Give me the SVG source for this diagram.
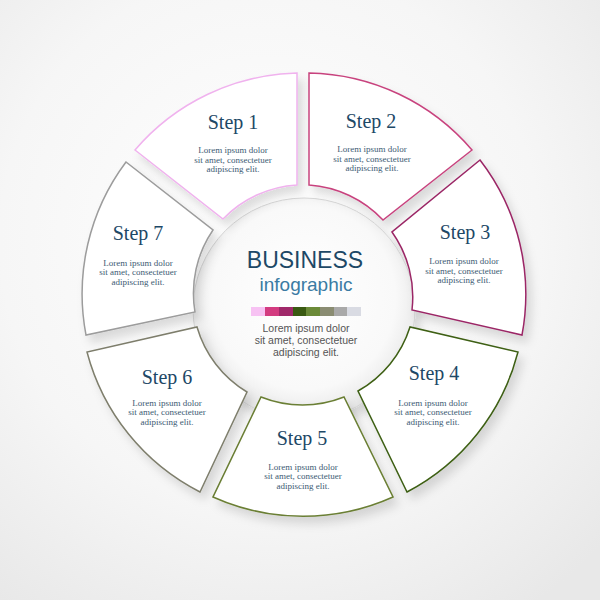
<svg xmlns="http://www.w3.org/2000/svg" width="600" height="600" viewBox="0 0 600 600">
<defs>
<radialGradient id="bg" cx="0.45" cy="0.4" r="0.75">
<stop offset="0" stop-color="#ffffff"/>
<stop offset="0.6" stop-color="#f6f6f6"/>
<stop offset="1" stop-color="#e8e8e8"/>
</radialGradient>
<radialGradient id="hub" cx="0.5" cy="0.45" r="0.55">
<stop offset="0" stop-color="#ffffff"/>
<stop offset="0.75" stop-color="#f9f9f9"/>
<stop offset="1" stop-color="#e6e6e6"/>
</radialGradient>
<filter id="sh" x="-20%" y="-20%" width="150%" height="150%">
<feDropShadow dx="5" dy="7" stdDeviation="5" flood-color="#000" flood-opacity="0.13"/>
</filter>
<style>
.seg{fill:#ffffff;stroke-width:1.5;filter:url(#sh)}
.st{font-family:"Liberation Serif",serif;font-size:20px;fill:#1d4866;text-anchor:middle}
.bd{font-family:"Liberation Serif",serif;font-size:9px;fill:#3c5a72;text-anchor:middle}
.cb{font-family:"Liberation Sans",Arial,sans-serif;font-size:10.5px;fill:#555;text-anchor:middle}
</style>
</defs>
<rect width="600" height="600" fill="url(#bg)"/>
<g id="center">
<circle cx="304" cy="309" r="111" fill="url(#hub)" stroke="#d6d6d6" stroke-width="1" filter="url(#sh)"/>
<text x="305" y="268" font-family="Liberation Sans,Arial,sans-serif" font-size="23" fill="#1d4866" text-anchor="middle">BUSINESS</text>
<text x="306" y="291" font-family="Liberation Sans,Arial,sans-serif" font-size="19" fill="#3a7ba3" text-anchor="middle">infographic</text>
<rect x="251" y="307" width="14" height="9" fill="#f7c2f3"/>
<rect x="265" y="307" width="14" height="9" fill="#d33b80"/>
<rect x="279" y="307" width="14" height="9" fill="#a0296a"/>
<rect x="293" y="307" width="13" height="9" fill="#3a5a12"/>
<rect x="306" y="307" width="14" height="9" fill="#6b8a38"/>
<rect x="320" y="307" width="14" height="9" fill="#8a8c72"/>
<rect x="334" y="307" width="13" height="9" fill="#a9a9a9"/>
<rect x="347" y="307" width="14" height="9" fill="#d9dbe3"/>
<text class="cb" x="306" y="332">Lorem ipsum dolor</text>
<text class="cb" x="306" y="344">sit amet, consectetuer</text>
<text class="cb" x="306" y="356">adipiscing elit.</text>
</g>
<g id="step1">
<path class="seg" stroke="#f0b2ee" d="M135,150 A220,220 0 0 1 297,73 L297,185 A112,112 0 0 0 223,219 Z"/>
<text class="st" x="233" y="129">Step 1</text>
<text class="bd" x="233" y="153">Lorem ipsum dolor</text>
<text class="bd" x="233" y="163">sit amet, consectetuer</text>
<text class="bd" x="233" y="172">adipiscing elit.</text>
</g>
<g id="step2">
<path class="seg" stroke="#c8437e" d="M309,73 A220,220 0 0 1 472,150 L383,220 A112,112 0 0 0 309,185 Z"/>
<text class="st" x="371" y="128">Step 2</text>
<text class="bd" x="372" y="152">Lorem ipsum dolor</text>
<text class="bd" x="372" y="162">sit amet, consectetuer</text>
<text class="bd" x="372" y="171">adipiscing elit.</text>
</g>
<g id="step3">
<path class="seg" stroke="#9b2766" d="M480,160 A220,220 0 0 1 522,335 L412,310 A112,112 0 0 0 392,232 Z"/>
<text class="st" x="465" y="239">Step 3</text>
<text class="bd" x="464" y="264">Lorem ipsum dolor</text>
<text class="bd" x="464" y="274">sit amet, consectetuer</text>
<text class="bd" x="464" y="283">adipiscing elit.</text>
</g>
<g id="step4">
<path class="seg" stroke="#3d5f12" d="M518,352 A220,220 0 0 1 407,492 L358,391 A112,112 0 0 0 410,327 Z"/>
<text class="st" x="434" y="380">Step 4</text>
<text class="bd" x="433" y="406">Lorem ipsum dolor</text>
<text class="bd" x="433" y="415">sit amet, consectetuer</text>
<text class="bd" x="433" y="425">adipiscing elit.</text>
</g>
<g id="step5">
<path class="seg" stroke="#6b7f34" d="M393,497 A220,220 0 0 1 213,497 L261,397 A112,112 0 0 0 344,397 Z"/>
<text class="st" x="302" y="445">Step 5</text>
<text class="bd" x="303" y="470">Lorem ipsum dolor</text>
<text class="bd" x="303" y="479">sit amet, consectetuer</text>
<text class="bd" x="303" y="489">adipiscing elit.</text>
</g>
<g id="step6">
<path class="seg" stroke="#7e7e6c" d="M200,492 A220,220 0 0 1 87,352 L197,327 A112,112 0 0 0 247,392 Z"/>
<text class="st" x="167" y="384">Step 6</text>
<text class="bd" x="167" y="406">Lorem ipsum dolor</text>
<text class="bd" x="167" y="415">sit amet, consectetuer</text>
<text class="bd" x="167" y="425">adipiscing elit.</text>
</g>
<g id="step7">
<path class="seg" stroke="#9c9c9c" d="M86,335 A220,220 0 0 1 126,162 L213,230 A112,112 0 0 0 195,312 Z"/>
<text class="st" x="138" y="240">Step 7</text>
<text class="bd" x="138" y="266">Lorem ipsum dolor</text>
<text class="bd" x="138" y="275">sit amet, consectetuer</text>
<text class="bd" x="138" y="285">adipiscing elit.</text>
</g>
<g id="connectors"/>
</svg>
